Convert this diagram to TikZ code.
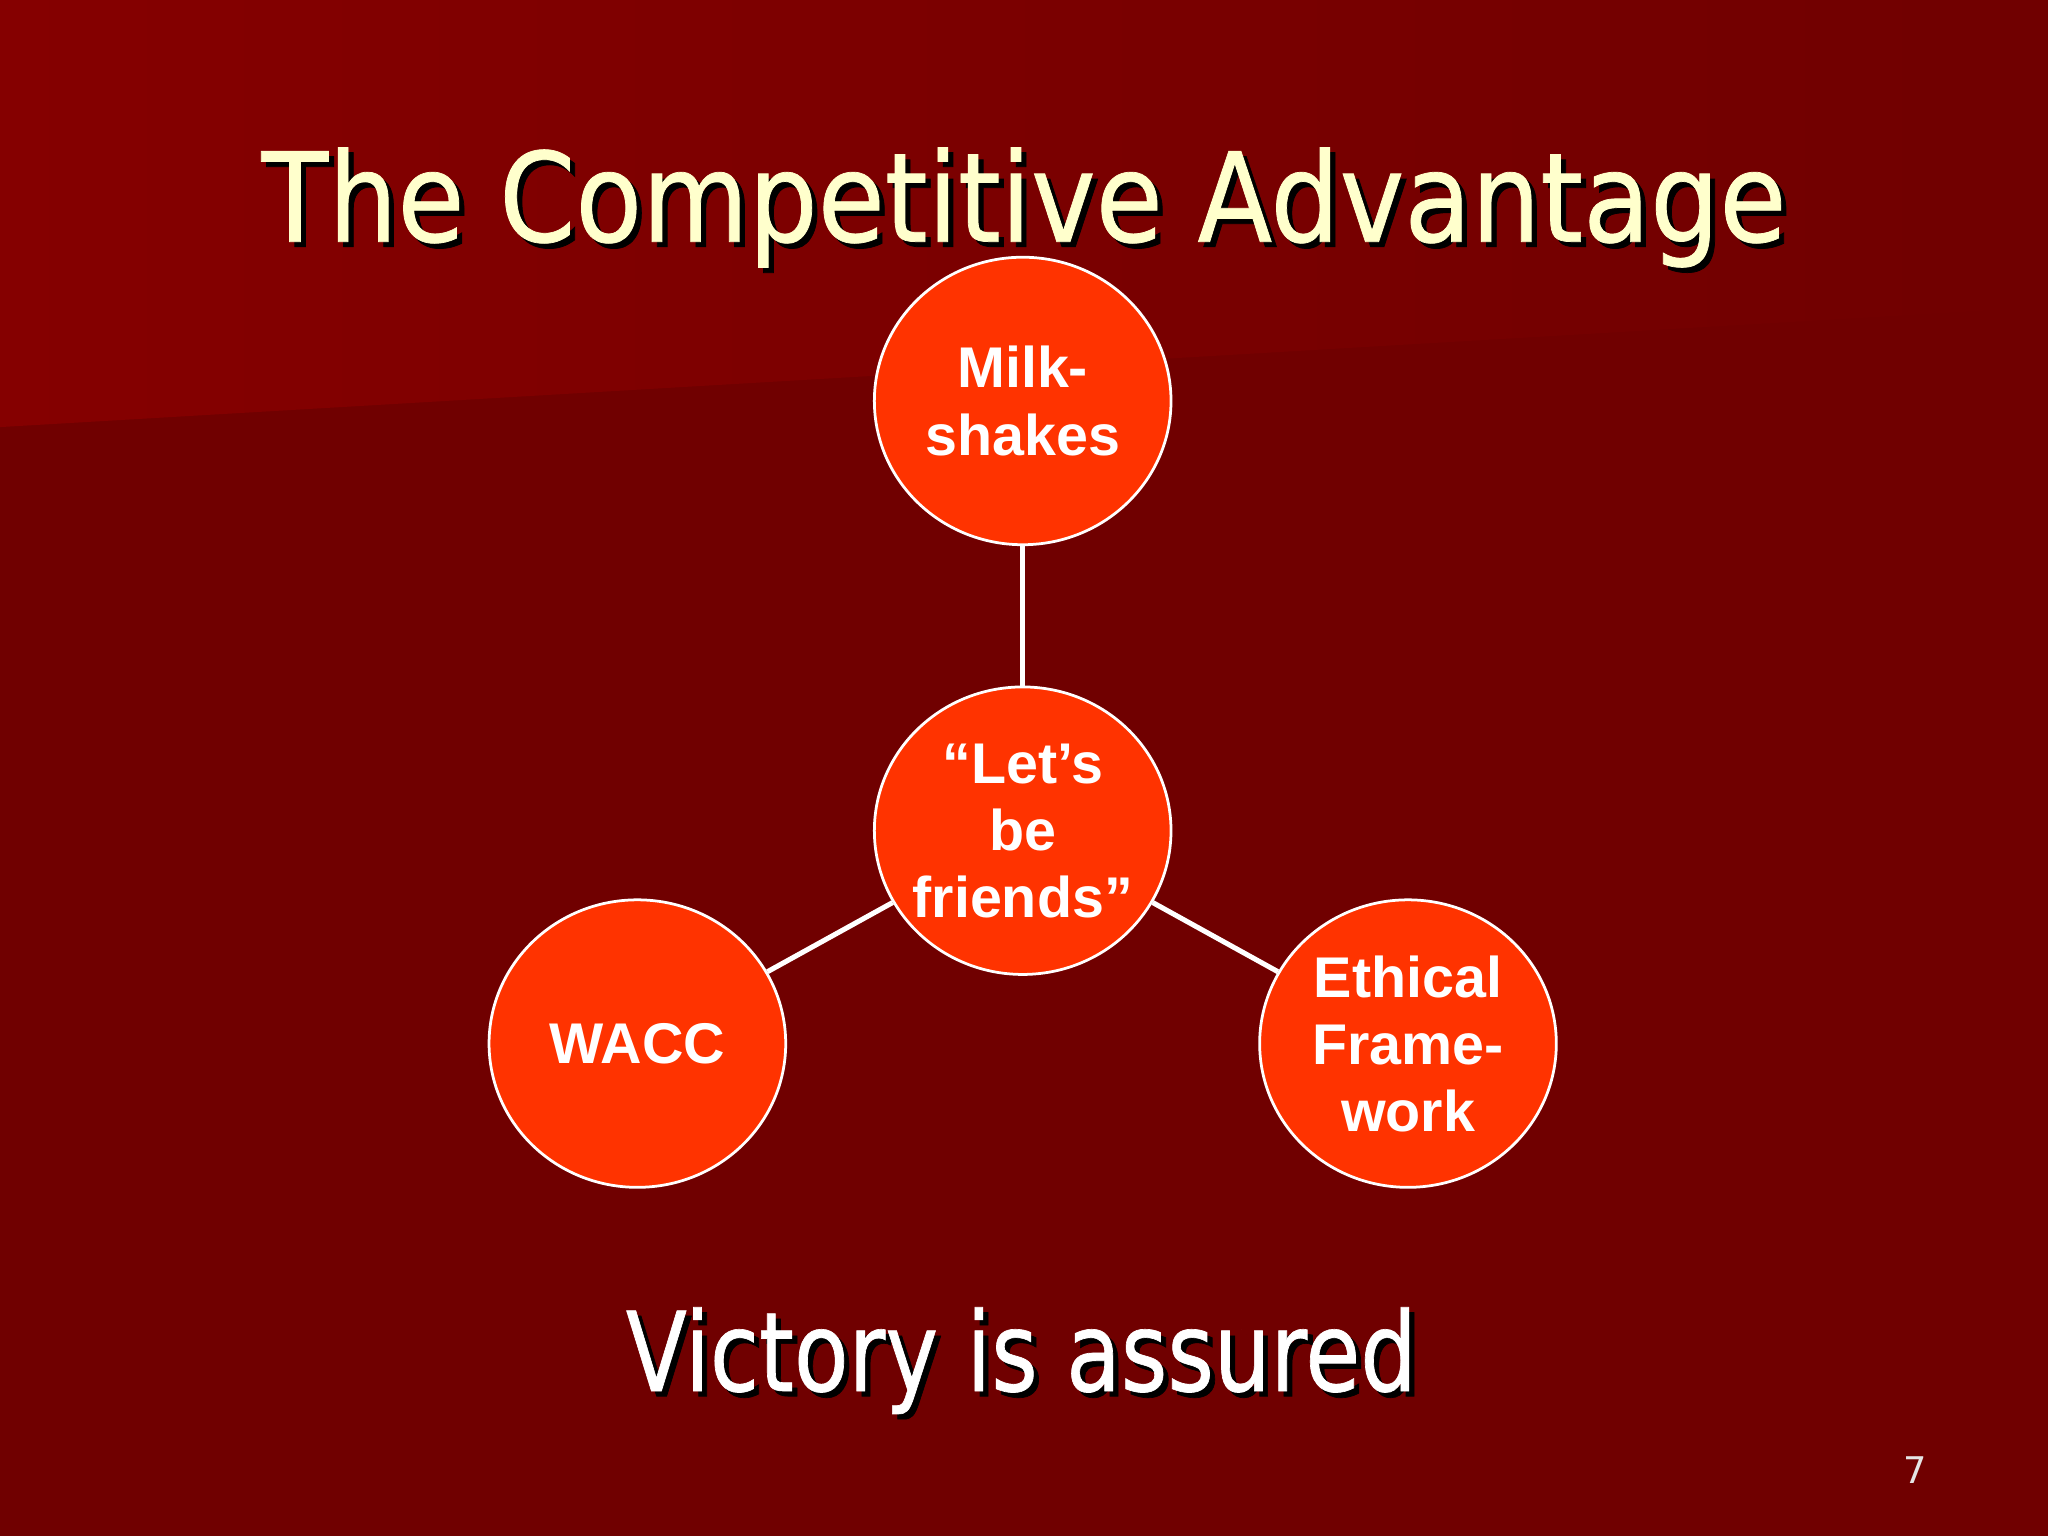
\documentclass[tikz,border=0pt]{standalone}
\usepackage{fontspec}
\setmainfont{DejaVu Sans}
\newfontfamily\arialb{Liberation Sans}
\begin{document}
\begin{tikzpicture}[x=0.01cm,y=-0.01cm,
  circ/.style={ellipse,draw=white,line width=0.6pt,fill=orcol,minimum width=2.27cm,minimum height=2.2cm,inner xsep=-4mm,inner ysep=-3mm,align=center,text=white,font=\arialb\bfseries\fontsize{12.5}{14.6}\selectfont},
  link/.style={draw=white,line width=1.1pt}]
\usetikzlibrary{shapes.geometric}
\definecolor{bg}{HTML}{700000}
\definecolor{bgl}{HTML}{850000}
\definecolor{orcol}{HTML}{FF3300}
\definecolor{cream}{HTML}{FFFFCC}
\useasboundingbox (0,0) rectangle (1568,1176);
\fill[bg] (0,0) rectangle (1568,1176);
\shade[left color=bgl,right color=bg] (0,0) -- (1568,0) -- (1568,235) -- (0,327) -- cycle;
\node[circ] (c) at (783,636) {“Let’s\\be\\friends”};
\node[circ] (t) at (783,307) {Milk-\\shakes};
\node[circ] (l) at (488,799) {WACC};
\node[circ] (r) at (1078,799) {Ethical\\Frame-\\work};
\draw[link] (c) -- (t);
\draw[link] (c) -- (l);
\draw[link] (c) -- (r);
\node[text=black,font=\fontsize{27}{30}\selectfont,anchor=base] (ts) at (788,189) {\addfontfeature{FakeStretch=0.88,FakeBold=0.6}The Competitive Advantage};
\node[text=cream,font=\fontsize{27}{30}\selectfont,anchor=base] (title) at (784,185) {\addfontfeature{FakeStretch=0.88,FakeBold=0.6}The Competitive Advantage};
\node[text=black,font=\fontsize{24}{28}\selectfont,anchor=base] (vs) at (786,1069) {\addfontfeature{FakeStretch=0.81,FakeBold=0.6}Victory is assured};
\node[text=white,font=\fontsize{24}{28}\selectfont,anchor=base] (v) at (782,1065) {\addfontfeature{FakeStretch=0.81,FakeBold=0.6}Victory is assured};
\node[text=white!90!black,font=\fontsize{8}{10}\selectfont,anchor=base] (n) at (1466,1136) {7};
\end{tikzpicture}
\end{document}
